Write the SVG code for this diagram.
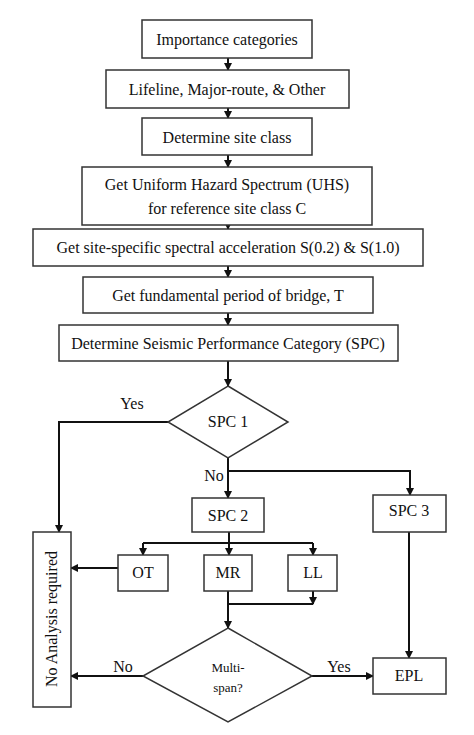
<svg xmlns="http://www.w3.org/2000/svg" width="474" height="735" viewBox="0 0 474 735">
<style>
.b{fill:#fff;stroke:#333;stroke-width:1.5}
.t{font-family:"Liberation Serif","Times New Roman",serif;font-size:16px;fill:#111;text-anchor:middle}
.s{font-size:13px}
.c{fill:none;stroke:#111;stroke-width:2}
</style>
<defs>
<marker id="a" markerWidth="8" markerHeight="8" refX="7" refY="4" orient="auto" markerUnits="userSpaceOnUse">
<path d="M0,0 L8,4 L0,8 Z" fill="#111"/>
</marker>
</defs>
<rect width="474" height="735" fill="#fff"/>
<g id="connectors">
<path class="c" d="M228,58 V70" marker-end="url(#a)"/>
<path class="c" d="M228,108 V118" marker-end="url(#a)"/>
<path class="c" d="M228,155 V167" marker-end="url(#a)"/>
<path class="c" d="M228,225 V229" marker-end="url(#a)"/>
<path class="c" d="M228,266 V277" marker-end="url(#a)"/>
<path class="c" d="M228,313 V325" marker-end="url(#a)"/>
<path class="c" d="M228,361 V386" marker-end="url(#a)"/>
<path class="c" d="M168,422 H59 V532" marker-end="url(#a)"/>
<path class="c" d="M228,458 V498" marker-end="url(#a)"/>
<path class="c" d="M228,471 H410 V495" marker-end="url(#a)"/>
<path class="c" d="M229,532 V555" marker-end="url(#a)"/>
<path class="c" d="M143,543 H313" />
<path class="c" d="M143,543 V555" marker-end="url(#a)"/>
<path class="c" d="M313,543 V555" marker-end="url(#a)"/>
<path class="c" d="M118,568 H71" marker-end="url(#a)"/>
<path class="c" d="M313,591 V604" marker-end="url(#a)"/>
<path class="c" d="M228,604 H313"/>
<path class="c" d="M228,591 V628" marker-end="url(#a)"/>
<path class="c" d="M143,676 H71" marker-end="url(#a)"/>
<path class="c" d="M312,676 H373" marker-end="url(#a)"/>
<path class="c" d="M409,532 V658" marker-end="url(#a)"/>
</g>
<g id="n1"><rect class="b" x="142" y="20" width="170" height="38"/><text class="t" x="227" y="45">Importance categories</text></g>
<g id="n2"><rect class="b" x="106" y="70" width="243" height="38"/><text class="t" x="227" y="95">Lifeline, Major-route, &amp; Other</text></g>
<g id="n3"><rect class="b" x="142" y="118" width="170" height="37"/><text class="t" x="227" y="143">Determine site class</text></g>
<g id="n4"><rect class="b" x="82" y="167" width="290" height="58"/><text class="t" x="227" y="190">Get Uniform Hazard Spectrum (UHS)</text><text class="t" x="227" y="214">for reference site class C</text></g>
<g id="n5"><rect class="b" x="33" y="229" width="390" height="37"/><text class="t" x="228" y="253">Get site-specific spectral acceleration S(0.2) &amp; S(1.0)</text></g>
<g id="n6"><rect class="b" x="83" y="277" width="290" height="36"/><text class="t" x="228" y="301">Get fundamental period of bridge, T</text></g>
<g id="n7"><rect class="b" x="59" y="325" width="339" height="36"/><text class="t" x="228" y="349">Determine Seismic Performance Category (SPC)</text></g>
<g id="spc1"><polygon class="b" points="228,386 288,422 228,458 168,422"/><text class="t" x="228" y="427">SPC 1</text></g>
<g id="spc2"><rect class="b" x="192" y="498" width="72" height="34"/><text class="t" x="228" y="521">SPC 2</text></g>
<g id="spc3"><rect class="b" x="373" y="495" width="73" height="37"/><text class="t" x="409" y="516">SPC 3</text></g>
<g id="noanalysis"><rect class="b" x="33" y="532" width="38" height="175"/><text class="t" transform="translate(57,619) rotate(-90)">No Analysis required</text></g>
<g id="ot"><rect class="b" x="118" y="555" width="50" height="36"/><text class="t" x="143" y="578">OT</text></g>
<g id="mr"><rect class="b" x="204" y="555" width="48" height="36"/><text class="t" x="228" y="578">MR</text></g>
<g id="ll"><rect class="b" x="288" y="555" width="49" height="36"/><text class="t" x="313" y="578">LL</text></g>
<g id="multispan"><polygon class="b" points="228,628 312,676 228,722 143,676"/><text class="t s" x="228" y="672">Multi-</text><text class="t s" x="228" y="692">span?</text></g>
<g id="epl"><rect class="b" x="373" y="658" width="73" height="36"/><text class="t" x="409" y="681">EPL</text></g>
<g id="labels">
<text class="t" x="132" y="409">Yes</text>
<text class="t" x="214" y="481">No</text>
<text class="t" x="123" y="672">No</text>
<text class="t" x="339" y="672">Yes</text>
</g>
</svg>
